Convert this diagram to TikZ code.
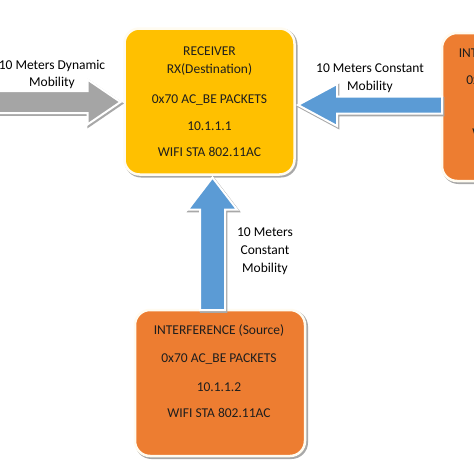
\documentclass[tikz,border=0pt]{standalone}
\usepackage{fontspec}
\setmainfont{Carlito}
\usetikzlibrary{calc}
\definecolor{gold}{HTML}{FFC000}
\definecolor{orng}{HTML}{ED7D31}
\definecolor{blu}{HTML}{5B9BD5}
\definecolor{gry}{HTML}{A5A5A5}
\definecolor{shd}{HTML}{A8A8A8}
\definecolor{txt}{HTML}{1E1E1E}
\definecolor{rim}{HTML}{FFFBF0}
\newcommand\blockarrow[6]{%
  \coordinate (ahb) at ($(#3)!#6!(#2)$);
  \path[#1] ($(#2)!#4!90:(#3)$) -- ($(ahb)!#4!90:(#3)$) -- ($(ahb)!#5!90:(#3)$) -- (#3)
    -- ($(ahb)!#5!-90:(#3)$) -- ($(ahb)!#4!-90:(#3)$) -- ($(#2)!#4!-90:(#3)$) -- cycle;}
\begin{document}
\begin{tikzpicture}[x=1pt,y=-1pt,
  every node/.style={font=\fontsize{13.5}{18}\selectfont, text=txt, align=center, inner sep=0pt, outer sep=0pt},
  card/.style={rounded corners=15pt, minimum width=170pt, minimum height=146pt, draw=rim, line width=2.5pt,
    preaction={fill=shd, draw=shd, line width=3pt, transform canvas={shift={(1.5pt,-1.5pt)}}}},
  blockarr/.style={draw=white, line width=2pt,
    preaction={fill=shd, draw=shd, line width=2.5pt, transform canvas={shift={(1.2pt,-1.5pt)}}}},
  lbl/.style={text=black}]
\useasboundingbox (0,0) rectangle (474,474);
\clip (0,0) rectangle (474,474);
\fill[white] (0,0) rectangle (474,474);
% boxes
\node[card, fill=gold] (rx) at (209.5,101.5) {RECEIVER\\RX(Destination)\\[12pt]0x70 AC\_BE PACKETS\\[9pt]10.1.1.1\\[8pt]WIFI STA 802.11AC};
\node[card, fill=orng, minimum height=148pt] (rt) at (527,107) {};
\node (rtt) at ($(rt)+(-3,-14)$) {INTERFERENCE (Source)\\[9pt]0x70 AC\_BE PACKETS\\[9pt]10.1.1.3\\[8pt]WIFI STA 802.11AC};
\node[card, fill=orng] (src) at (220,383) {};
\node (srct) at ($(src)+(-1,-11.5)$) {INTERFERENCE (Source)\\[10pt]0x70 AC\_BE PACKETS\\[11pt]10.1.1.2\\[8pt]WIFI STA 802.11AC};
% labels
\node[lbl] (l1) at (52,74.5) {10 Meters Dynamic\\[-0.5pt]Mobility};
\node[lbl] (l2) at (370,78.5) {10 Meters Constant\\Mobility};
\node[lbl] (l3) at (265,251) {10 Meters\\Constant\\Mobility};
% arrows
\coordinate (gs) at (-6,102);
\coordinate (gt) at ($(rx.west)+(-4,0.5)$);
\blockarrow{blockarr, fill=gry}{gs}{gt}{11pt}{22.5pt}{33pt}
\coordinate (ut) at ($(rx.south)+(3,3)$);
\coordinate (us) at (ut |- src.north);
\blockarrow{blockarr, fill=blu}{us}{ut}{12.5pt}{24.5pt}{32pt}
\coordinate (rtip) at ($(rx.east)+(3.5,3.5)$);
\coordinate (rs) at (rt.west |- rtip);
\blockarrow{blockarr, fill=blu}{rs}{rtip}{8.5pt}{21pt}{39pt}
\end{tikzpicture}
\end{document}
